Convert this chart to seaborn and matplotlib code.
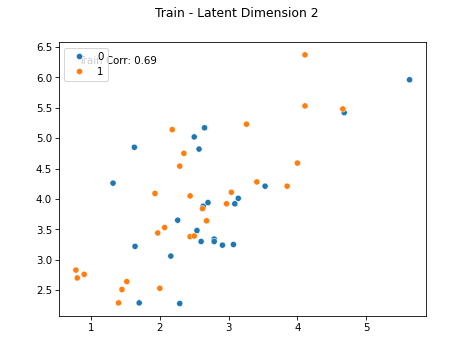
import numpy as np
import pandas as pd
import matplotlib
matplotlib.use("Agg")
import matplotlib.pyplot as plt
import seaborn as sns

# class 0 points
x0 = [1.63, 2.50, 2.65, 2.57, 1.32, 3.53, 5.63, 4.68, 2.63, 2.70, 3.09, 3.14,
      2.26, 2.54, 2.60, 2.79, 2.79, 2.91, 3.07, 1.64, 2.16, 1.70, 2.29]
y0 = [4.85, 5.02, 5.17, 4.82, 4.26, 4.21, 5.96, 5.42, 3.88, 3.94, 3.92, 4.01,
      3.65, 3.48, 3.30, 3.34, 3.30, 3.24, 3.25, 3.22, 3.06, 2.29, 2.28]

# class 1 points
x1 = [2.18, 2.35, 2.29, 3.26, 3.41, 4.11, 4.11, 4.66, 4.00, 3.85, 1.93, 2.44,
      3.04, 2.62, 2.97, 2.68, 2.07, 1.97, 2.44, 2.50, 0.78, 0.90, 0.80, 1.52,
      1.45, 2.00, 1.40]
y1 = [5.14, 4.75, 4.54, 5.23, 4.28, 6.37, 5.53, 5.48, 4.59, 4.21, 4.09, 4.05,
      4.11, 3.84, 3.92, 3.64, 3.53, 3.44, 3.38, 3.39, 2.83, 2.76, 2.70, 2.64,
      2.51, 2.53, 2.29]

corr = 0.69

x = np.array(x0 + x1)
y = np.array(y0 + y1)
labels = np.array([0] * len(x0) + [1] * len(x1))

fig, ax = plt.subplots(figsize=(6.4, 4.8), dpi=74)
sns.scatterplot(x=x, y=y, hue=labels, ax=ax)
ax.text(0.05, 0.95, f"Train Corr: {corr:.2f}", transform=ax.transAxes,
        va="top")
ax.legend(loc="upper left")
fig.suptitle("Train - Latent Dimension 2")
plt.savefig("out.png")
